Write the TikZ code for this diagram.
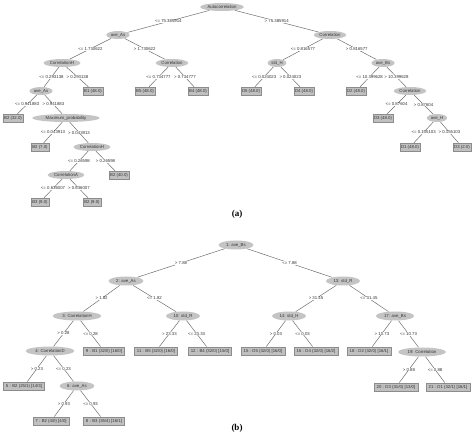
\documentclass[tikz,border=0pt]{standalone}
\usepackage{fontspec}
\setmainfont{Liberation Sans}
\newfontfamily\capfont{Liberation Serif}
\usetikzlibrary{shapes.geometric,backgrounds}
\definecolor{ellfill}{HTML}{C4C4C4}
\definecolor{boxfill}{HTML}{C0C0C0}
\definecolor{boxline}{HTML}{8C8C8C}
\definecolor{txt}{HTML}{333333}
\definecolor{linecol}{HTML}{6E6E6E}
\newcommand{\tinyfs}{\fontsize{4.3}{5}\selectfont}
\tikzset{
  enode/.style={ellipse, fill=ellfill, draw=none, minimum height=8pt, inner xsep=1pt, inner ysep=0pt, font=\tinyfs, text=txt},
  benode/.style={enode, inner xsep=2.6pt, minimum height=9pt},
  bnode/.style={rectangle, fill=boxfill, draw=boxline, line width=0.4pt, minimum height=8pt, inner xsep=1.3pt, inner ysep=0pt, font=\tinyfs, text=txt},
  bbnode/.style={bnode, inner xsep=2.4pt, minimum height=8.5pt},
  elbl/.style={fill=white, inner sep=0.3pt, font=\tinyfs, text=txt},
  conn/.style={draw=linecol, line width=0.5pt},
  capt/.style={font=\capfont\bfseries\fontsize{9}{10}\selectfont, text=black}
}
\begin{document}
\begin{tikzpicture}[x=1pt,y=-1pt]
\useasboundingbox (0,0) rectangle (474,435);
% ---------- (a) ----------
\node[enode] (a1) at (222,7) {Autocorrelation};
\node[enode] (a2) at (118,35) {ave\_As};
\node[enode] (a3) at (330,35) {Correlation};
\node[enode] (a4) at (62,63) {CorrelationH};
\node[enode] (a5) at (172,63) {Correlation};
\node[enode] (a6) at (41,91) {ave\_As};
\node[bnode] (a7) at (93,91) {B1 (48.0)};
\node[bnode] (a8) at (145,91) {B5 (48.0)};
\node[bnode] (a9) at (198,91) {B4 (48.0)};
\node[bnode] (a10) at (13,118) {B2 (32.0)};
\node[enode, inner xsep=3.5pt] (a11) at (66,118) {Maximum\_probability};
\node[bnode] (a12) at (40,147) {B2 (7.0)};
\node[enode] (a13) at (92,147) {CorrelationH};
\node[enode] (a14) at (66,175) {CorrelationA};
\node[bnode] (a15) at (119,175) {B2 (40.0)};
\node[bnode] (a16) at (40,202) {B3 (9.0)};
\node[bnode] (a17) at (92,202) {B2 (9.0)};
\node[enode] (a18) at (277,63) {std\_H};
\node[enode] (a19) at (383,63) {ave\_Bs};
\node[bnode] (a20) at (251,91) {D5 (48.0)};
\node[bnode] (a21) at (304,91) {D4 (48.0)};
\node[bnode] (a22) at (356,91) {D2 (48.0)};
\node[enode] (a23) at (410,91) {Correlation};
\node[bnode] (a24) at (383,118) {D3 (48.0)};
\node[enode] (a25) at (437,118) {ave\_H};
\node[bnode] (a26) at (410,147) {D1 (48.0)};
\node[bnode] (a27) at (462,147) {D3 (2.0)};
\node[capt] (capa) at (237,214) {(a)};
% ---------- (b) ----------
\node[benode] (b1) at (236,245) {1: ave\_Bs};
\node[benode] (b2) at (126,281) {2: ave\_As};
\node[benode] (b13) at (343,281) {13: std\_R};
\node[benode] (b3) at (77,316) {3: CorrelationH};
\node[benode] (b10) at (183,316) {10: std\_R};
\node[benode] (b14) at (289,316) {14: std\_H};
\node[benode] (b17) at (395,316) {17: ave\_Bs};
\node[benode] (b4) at (50,351) {4: CorrelationD};
\node[bbnode] (b9) at (104,351) {9 : B1 (32/0) [16/0]};
\node[bbnode] (b11) at (156,351) {11 : B5 (32/0) [16/0]};
\node[bbnode] (b12) at (210,351) {12 : B4 (32/0) [15/0]};
\node[bbnode] (b15) at (263,351) {15 : D5 (32/0) [16/0]};
\node[bbnode] (b16) at (316,351) {16 : D4 (32/0) [16/2]};
\node[bbnode] (b18) at (369,351) {18 : D2 (32/0) [16/1]};
\node[benode] (b19) at (422,352) {19: Correlation};
\node[bbnode] (b5) at (24,386) {5 : B2 (25/1) [14/3]};
\node[benode] (b6) at (77,386) {6: ave\_As};
\node[bbnode] (b20) at (396,387) {20 : D3 (31/0) [13/0]};
\node[bbnode] (b21) at (448,387) {21 : D1 (32/1) [16/1]};
\node[bbnode] (b7) at (51,421) {7 : B2 (4/0) [4/0]};
\node[bbnode] (b8) at (104,421) {8 : B3 (35/4) [16/1]};
\node[capt] (capb) at (237,428) {(b)};
% ---------- connectors ----------
\begin{scope}[on background layer]
\path[conn] (a1) -- node[elbl] {<= 75.385914} (a2);
\path[conn] (a1) -- node[elbl] {> 75.385914} (a3);
\path[conn] (a2) -- node[elbl] {<= 1.730622} (a4);
\path[conn] (a2) -- node[elbl] {> 1.730622} (a5);
\path[conn] (a4) -- node[elbl] {<= 0.293138} (a6);
\path[conn] (a4) -- node[elbl] {> 0.293138} (a7);
\path[conn] (a5) -- node[elbl] {<= 0.734777} (a8);
\path[conn] (a5) -- node[elbl] {> 0.734777} (a9);
\path[conn] (a6) -- node[elbl] {<= 0.941883} (a10);
\path[conn] (a6) -- node[elbl] {> 0.941883} (a11);
\path[conn] (a11) -- node[elbl] {<= 0.043913} (a12);
\path[conn] (a11) -- node[elbl] {> 0.043913} (a13);
\path[conn] (a13) -- node[elbl] {<= 0.26598} (a14);
\path[conn] (a13) -- node[elbl] {> 0.26598} (a15);
\path[conn] (a14) -- node[elbl] {<= 0.636007} (a16);
\path[conn] (a14) -- node[elbl] {> 0.636007} (a17);
\path[conn] (a3) -- node[elbl] {<= 0.816577} (a18);
\path[conn] (a3) -- node[elbl] {> 0.816577} (a19);
\path[conn] (a18) -- node[elbl] {<= 0.024023} (a20);
\path[conn] (a18) -- node[elbl] {> 0.024023} (a21);
\path[conn] (a19) -- node[elbl] {<= 10.399628} (a22);
\path[conn] (a19) -- node[elbl] {> 10.399628} (a23);
\path[conn] (a23) -- node[elbl] {<= 0.87604} (a24);
\path[conn] (a23) -- node[elbl] {> 0.87604} (a25);
\path[conn] (a25) -- node[elbl] {<= 0.155103} (a26);
\path[conn] (a25) -- node[elbl] {> 0.155103} (a27);
%
\path[conn] (b1) -- node[elbl] {> 7.88} (b2);
\path[conn] (b1) -- node[elbl] {<= 7.88} (b13);
\path[conn] (b2) -- node[elbl] {> 1.82} (b3);
\path[conn] (b2) -- node[elbl] {<= 1.82} (b10);
\path[conn] (b3) -- node[elbl] {> 0.28} (b4);
\path[conn] (b3) -- node[elbl] {<= 0.28} (b9);
\path[conn] (b4) -- node[elbl] {> 0.23} (b5);
\path[conn] (b4) -- node[elbl] {<= 0.23} (b6);
\path[conn] (b6) -- node[elbl] {> 0.93} (b7);
\path[conn] (b6) -- node[elbl] {<= 0.93} (b8);
\path[conn] (b10) -- node[elbl] {> 23.33} (b11);
\path[conn] (b10) -- node[elbl] {<= 23.33} (b12);
\path[conn] (b13) -- node[elbl] {> 31.45} (b14);
\path[conn] (b13) -- node[elbl] {<= 31.45} (b17);
\path[conn] (b14) -- node[elbl] {> 0.03} (b15);
\path[conn] (b14) -- node[elbl] {<= 0.03} (b16);
\path[conn] (b17) -- node[elbl] {> 10.73} (b18);
\path[conn] (b17) -- node[elbl] {<= 10.73} (b19);
\path[conn] (b19) -- node[elbl] {> 0.88} (b20);
\path[conn] (b19) -- node[elbl] {<= 0.88} (b21);
\end{scope}
\end{tikzpicture}
\end{document}
